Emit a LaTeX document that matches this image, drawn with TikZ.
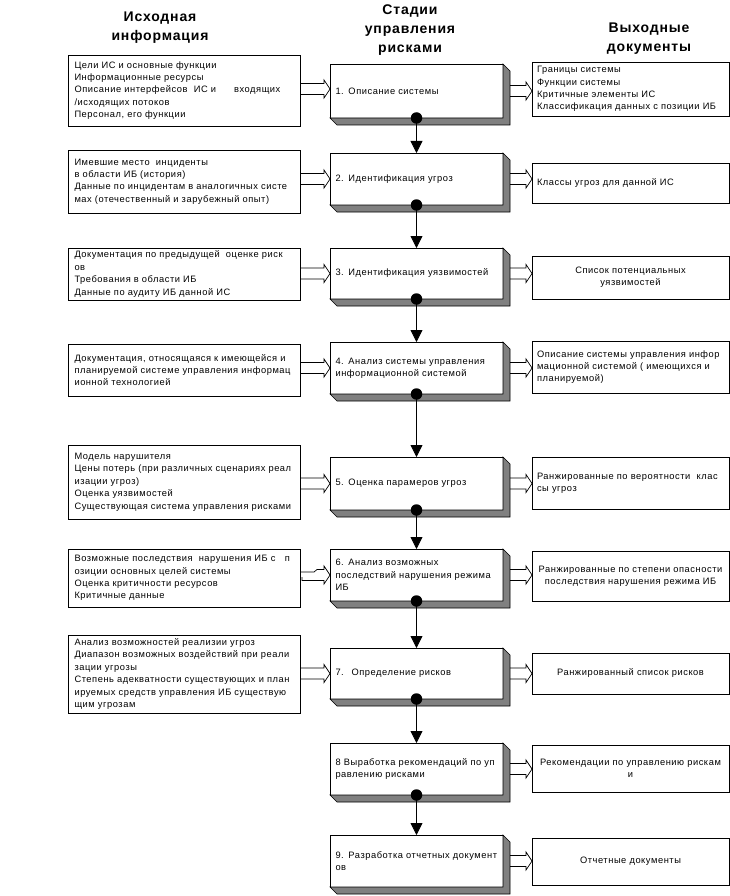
\documentclass[tikz,border=0pt]{standalone}
\usepackage{fontspec}
\setmainfont{Liberation Sans}[LetterSpace=6]
\usetikzlibrary{arrows.meta,calc}
\tikzset{
  every node/.style={font=\fontsize{9.3}{12.4}\selectfont},
  basebox/.style={draw, line width=0.8pt, fill=white, rectangle, outer sep=0pt, inner ysep=0pt},
  lbox/.style={basebox, inner xsep=6.5pt, text width=219pt, align=left},
  mbox/.style={basebox, inner xsep=5.5pt, text width=162pt, align=left},
  rboxl/.style={basebox, inner xsep=5pt, text width=187pt, align=left},
  rboxc/.style={rboxl, align=center},
  hdr/.style={font=\fontsize{14}{19}\selectfont\bfseries, align=center, inner sep=0pt},
  shade/.style={fill=black!50, draw=black, line width=0.6pt},
  harrow/.style={draw=black, line width=0.7pt, line join=miter},
  downarr/.style={draw=black, line width=0.8pt, -{Triangle[width=12pt,length=12pt]}},
  blackdot/.style={circle, fill=black, inner sep=0pt, minimum size=11.5pt}
}
\newcommand{\mshade}[1]{\draw[shade] (#1.north east) -- ++(7,7) -- ($(#1.south east)+(7,7)$) -- ($(#1.south west)+(7,7)$) -- (#1.south west) -- (#1.south east) -- cycle;}
\newcommand{\inarrow}[3]{\draw[harrow] let \p1=(#1.east), \p2=(#2.west) in
  (\x1,\y2+#3+5.5pt) -- (\x2-6pt,\y2+#3+5.5pt) -- (\x2-6pt,\y2+#3+9pt) -- (\x2,\y2+#3) -- (\x2-6pt,\y2+#3-9pt) -- (\x2-6pt,\y2+#3-5.5pt) -- (\x1,\y2+#3-5.5pt);}
\newcommand{\outarrow}[3]{\draw[harrow] let \p1=(#1.east), \p2=(#2.west) in
  (\x1+7pt,\y1+#3+5.5pt) -- (\x2-6pt,\y1+#3+5.5pt) -- (\x2-6pt,\y1+#3+9pt) -- (\x2,\y1+#3) -- (\x2-6pt,\y1+#3-9pt) -- (\x2-6pt,\y1+#3-5.5pt) -- (\x1+7pt,\y1+#3-5.5pt);}
\begin{document}
\begin{tikzpicture}[x=1pt,y=-1pt]
\useasboundingbox[fill=white] (0,0) rectangle (730,896);

% headers
\node[hdr] (h1) at (160,28) {Исходная\\информация};
\node[hdr] (h2) at (410,30) {Стадии\\управления\\рисками};
\node[hdr] (h3) at (649,39) {Выходные\\документы};

% left boxes
\node[lbox, minimum height=71pt] (L1) at (184,90.5) {Цели ИС и основные функции\\Информационные ресурсы\\Описание интерфейсов \ ИС и\hspace{18pt}входящих\\/исходящих потоков\\Персонал, его функции};
\node[lbox, minimum height=63pt] (L2) at (184,181.5) {Имевшие место \ инциденты\\в области ИБ (история)\\Данные по инцидентам в аналогичных систе\\мах (отечественный и зарубежный опыт)};
\node[lbox, minimum height=52pt] (L3) at (184,274) {Документация по предыдущей \ оценке риск\\ов\\Требования в области ИБ\\Данные по аудиту ИБ данной ИС};
\node[lbox, minimum height=52pt] (L4) at (184,370) {Документация, относящаяся к имеющейся и\\планируемой системе управления информац\\ионной технологией};
\node[lbox, minimum height=74pt] (L5) at (184,482) {Модель нарушителя\\Цены потерь (при различных сценариях реал\\изации угроз)\\Оценка уязвимостей\\Существующая система управления рисками};
\node[lbox, minimum height=58pt] (L6) at (184,578) {Возможные последствия \ нарушения ИБ с \ \ п\\озиции основных целей системы\\Оценка критичности ресурсов\\Критичные данные};
\node[lbox, minimum height=78pt] (L7) at (184,674) {Анализ возможностей реализии угроз\\Диапазон возможных воздействий при реали\\зации угрозы\\Степень адекватности существующих и план\\ируемых средств управления ИБ существую\\щим угрозам};

% middle boxes
\node[mbox, minimum height=54pt] (M1) at (416.5,91) {1. Описание системы};
\node[mbox, minimum height=52pt] (M2) at (416.5,179) {2. Идентификация угроз};
\node[mbox, minimum height=51pt] (M3) at (416.5,273.5) {3. Идентификация уязвимостей};
\node[mbox, minimum height=52pt] (M4) at (416.5,368) {4. Анализ системы управления\\информационной системой};
\node[mbox, minimum height=53pt] (M5) at (416.5,483.5) {5. Оценка парамеров угроз};
\node[mbox, minimum height=52pt] (M6) at (416.5,575) {6. Анализ возможных\\последствий нарушения режима\\ИБ};
\node[mbox, minimum height=51pt] (M7) at (416.5,673.5) {7. \ Определение рисков};
\node[mbox, minimum height=52pt] (M8) at (416.5,769) {8 Выработка рекомендаций по уп\\равлению рисками};
\node[mbox, minimum height=52pt] (M9) at (416.5,861) {9. Разработка отчетных документ\\ов};

\foreach \m in {M1,M2,M3,M4,M5,M6,M7,M8,M9} {\mshade{\m}}

% right boxes
\node[rboxl, minimum height=54pt] (R1) at (630.5,89) {Границы системы\\Функции системы\\Критичные элементы ИС\\Классификация данных с позиции ИБ};
\node[rboxl, minimum height=40pt] (R2) at (630.5,183) {Классы угроз для данной ИС};
\node[rboxc, minimum height=43pt] (R3) at (630.5,277.5) {Список потенциальных\\уязвимостей};
\node[rboxl, minimum height=52pt] (R4) at (630.5,367) {Описание системы управления инфор\\мационной системой ( имеющихся и\\планируемой)};
\node[rboxl, minimum height=52pt] (R5) at (630.5,483) {Ранжированные по вероятности \ клас\\сы угроз};
\node[rboxc, minimum height=50pt] (R6) at (630.5,576) {Ранжированные по степени опасности\\последствия нарушения режима ИБ};
\node[rboxc, minimum height=41pt] (R7) at (630.5,673.5) {Ранжированный список рисков};
\node[rboxc, minimum height=47pt] (R8) at (630.5,768.5) {Рекомендации по управлению рискам\\и};
\node[rboxc, minimum height=47pt] (R9) at (630.5,861.5) {Отчетные документы};

% input arrows
\inarrow{L1}{M1}{2pt}
\inarrow{L2}{M2}{0pt}
\inarrow{L3}{M3}{0pt}
\inarrow{L4}{M4}{0pt}
\inarrow{L5}{M5}{0pt}
\draw[harrow] let \p1=(L6.east), \p2=(M6.west) in
  (\x1,\y2+3pt) -- (\x1+14pt,\y2+3pt) -- (\x1+17pt,\y2+5.5pt) -- (\x2-6pt,\y2+5.5pt) -- (\x2-6pt,\y2+9pt) -- (\x2,\y2) -- (\x2-6pt,\y2-9pt) -- (\x2-6pt,\y2-5.5pt) -- (\x1+2pt,\y2-5.5pt) -- (\x1+2pt,\y2-2pt);
\inarrow{L7}{M7}{0pt}

% output arrows
\outarrow{M1}{R1}{0pt}
\outarrow{M2}{R2}{0pt}
\outarrow{M3}{R3}{0pt}
\outarrow{M4}{R4}{0pt}
\outarrow{M5}{R5}{0pt}
\outarrow{M6}{R6}{0pt}
\outarrow{M7}{R7}{0pt}
\outarrow{M8}{R8}{0pt}
\outarrow{M9}{R9}{0pt}

% stage connectors
\foreach \a/\b in {M1/M2,M2/M3,M3/M4,M4/M5,M5/M6,M6/M7,M7/M8,M8/M9} {
  \draw[downarr] (\a.south) -- (\b.north);
}
\foreach \a/\n in {M1/d1,M2/d2,M3/d3,M4/d4,M5/d5,M6/d6,M7/d7,M8/d8} {
  \node[blackdot] (\n) at (\a.south) {};
}
\end{tikzpicture}
\end{document}
